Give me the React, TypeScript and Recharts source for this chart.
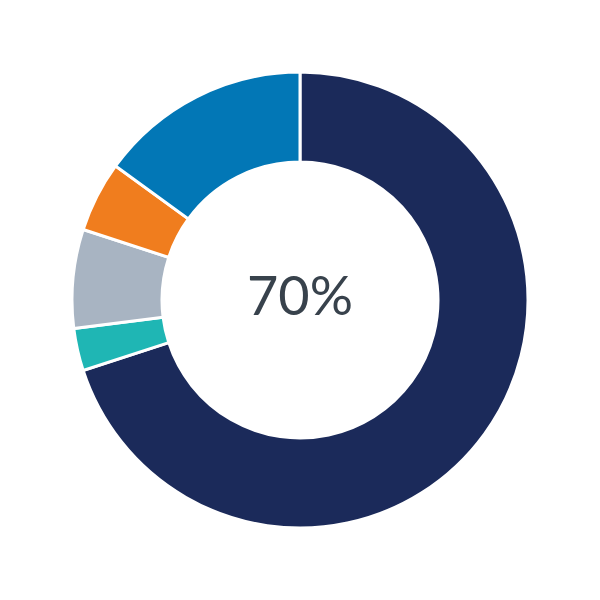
import { PieChart, Pie, Cell } from 'recharts';

const labels = ['Core', 'Teal', 'Gray', 'Orange', 'Blue'];
const values = [70, 3, 7, 5, 15];
const colors = ['#1b2a5a', '#1fb6b4', '#a8b4c2', '#f07d1e', '#0277b6'];

const data = labels.map((name, i) => ({ name, value: values[i] }));

export default function App() {
  return (
    <div style={{ width: 600, height: 600, position: 'relative' }}>
      <PieChart width={600} height={600} margin={{ top: 0, right: 0, bottom: 0, left: 0 }}>
        <Pie
          data={data}
          dataKey="value"
          cx={292}
          cy={292}
          innerRadius={138}
          outerRadius={228}
          startAngle={90}
          endAngle={-270}
          stroke="#ffffff"
          strokeWidth={3}
          isAnimationActive={false}
        >
          {data.map((d, i) => (
            <Cell key={d.name} fill={colors[i]} />
          ))}
        </Pie>
        <text
          x={292}
          y={286}
          textAnchor="middle"
          dominantBaseline="central"
          fontFamily="Lato, sans-serif"
          fontWeight={400}
          fontSize={54}
          fill="#38424c"
        >
          70%
        </text>
      </PieChart>
    </div>
  );
}
